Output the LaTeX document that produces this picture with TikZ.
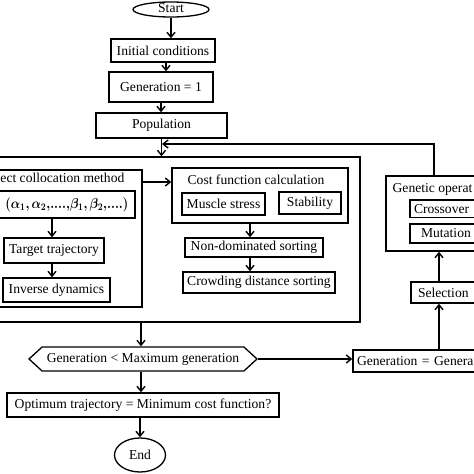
\documentclass[tikz,border=0pt]{standalone}
\usepackage{amsmath,bm}
\usepackage{graphicx}
\usepackage{fontspec}
\setmainfont{Liberation Serif}
\usetikzlibrary{shapes.geometric,shapes.symbols,arrows.meta}
\begin{document}
\begin{tikzpicture}[x=1pt,y=-1pt, line width=1.3pt,
  font=\fontsize{13.6}{15}\selectfont,
  box/.style={draw, rectangle, inner sep=0pt, line width=1.3pt},
  lbox/.style={draw, rectangle, inner ysep=0pt, align=left, line width=1.3pt},
  arr/.style={-{Straight Barb[length=5pt,width=8pt]}, line width=1.4pt},
  ttl/.style={inner sep=0pt}]
\useasboundingbox (0,0) rectangle (474,474);
\clip (0,0) rectangle (474,474);

% top chain
\node[draw, ellipse, inner sep=0pt, text height=7pt, text depth=1pt, minimum width=76, minimum height=15] (start) at (171,9.5) {Start};
\node[box, minimum width=104, minimum height=23] (init) at (163,50.5) {Initial conditions};
\node[box, minimum width=104, minimum height=30] (gen1) at (161,87) {Generation = 1};
\node[box, minimum width=131, minimum height=25] (pop) at (161.5,125.5) {Population};

% big box
\node[box, minimum width=380, minimum height=165] (big) at (170,239.5) {};
\node[box, minimum width=162, minimum height=137] (dcm) at (61,238.5) {};
\node[ttl, anchor=east] (dcmt) at (125,178) {ect collocation method};
\node[box, minimum width=155, minimum height=27] (alpha) at (57.5,204.5) {};
\node[ttl, anchor=east] (alphat) at (129,205) {\resizebox{123pt}{\height}{$\bm{(\alpha_1,\alpha_2,\!....,\!\beta_1,\beta_2,\!....)}$}};
\node[box, minimum width=100, minimum height=25] (target) at (54,250.5) {Target trajectory};
\node[box, minimum width=107, minimum height=24] (inverse) at (56.5,290) {Inverse dynamics};

\node[box, minimum width=176, minimum height=55] (cost) at (260,195.5) {};
\node[ttl] (costt) at (256,180) {Cost function calculation};
\node[box, minimum width=83, minimum height=22] (muscle) at (223.5,204) {Muscle stress};
\node[box, minimum width=62, minimum height=22] (stab) at (310,203) {Stability};
\node[box, minimum width=138, minimum height=19] (nondom) at (254,247.5) {Non-dominated sorting};
\node[box, minimum width=152, minimum height=21] (crowd) at (259,282.5) {Crowding distance sorting};

% right column
\node[box, minimum width=124, minimum height=75] (genop) at (448,213.5) {};
\node[ttl, anchor=west] (genopt) at (392,189) {Genetic operat};
\node[lbox, text width=72pt, inner xsep=4pt, minimum height=17.5] (cross) at (450,208.75) {Crossover};
\node[lbox, text width=65pt, inner xsep=11pt, minimum height=19] (mut) at (453.5,233.5) {Mutation};
\node[lbox, text width=66pt, inner xsep=7pt, minimum height=21] (sel) at (451,292.5) {Selection};
\node[lbox, text width=150pt, inner xsep=4pt, minimum height=22] (gennew) at (432,361) {Generation = Genera};

% bottom
\node[draw, signal, signal to=west and east, signal pointer angle=85, inner sep=0pt, minimum width=228, minimum height=24] (hex) at (143,359) {Generation < Maximum generation};
\node[box, minimum width=272, minimum height=24] (opt) at (143,405) {Optimum trajectory = Minimum cost function?};
\node[draw, ellipse, inner sep=0pt, minimum width=51, minimum height=34] (end) at (140,455) {End};

\coordinate (join) at (162,144);
\coordinate (col) at (439,0);

% connectors
\draw[arr] (start.south) -- (start.south |- init.north);
\draw[arr] ([xshift=3pt]init.south) -- ([xshift=3pt]init.south |- gen1.north);
\draw[arr] (gen1.south) -- (gen1.south |- pop.north);
\draw[arr] (pop.south) -- (pop.south |- big.north);
\draw[arr] ([xshift=-14pt]genop.north) |- (join);
\draw[arr] ([yshift=56.5pt]dcm.east) -- ([yshift=56.5pt]dcm.east -| cost.west);
\draw[arr] ([xshift=-2pt]target.north |- alpha.south) -- ([xshift=-2pt]target.north);
\draw[arr] ([xshift=-2pt]target.south) -- ([xshift=-2pt]target.south |- inverse.north);
\draw[arr] ([xshift=-4pt]nondom.north |- cost.south) -- ([xshift=-4pt]nondom.north);
\draw[arr] ([xshift=-4pt]nondom.south) -- ([xshift=-4pt]nondom.south |- crowd.north);
\draw[arr] ([xshift=-2pt]hex.north |- big.south) -- ([xshift=-2pt]hex.north);
\draw[arr] (hex.east) -- (hex.east -| gennew.west);
\draw[arr] ([xshift=-2pt]hex.south) -- ([xshift=-2pt]hex.south |- opt.north);
\draw[arr] (end.north |- opt.south) -- (end.north);
\draw[arr] (col |- gennew.north) -- (col |- sel.south);
\draw[arr] (col |- sel.north) -- (col |- genop.south);
\end{tikzpicture}
\end{document}
